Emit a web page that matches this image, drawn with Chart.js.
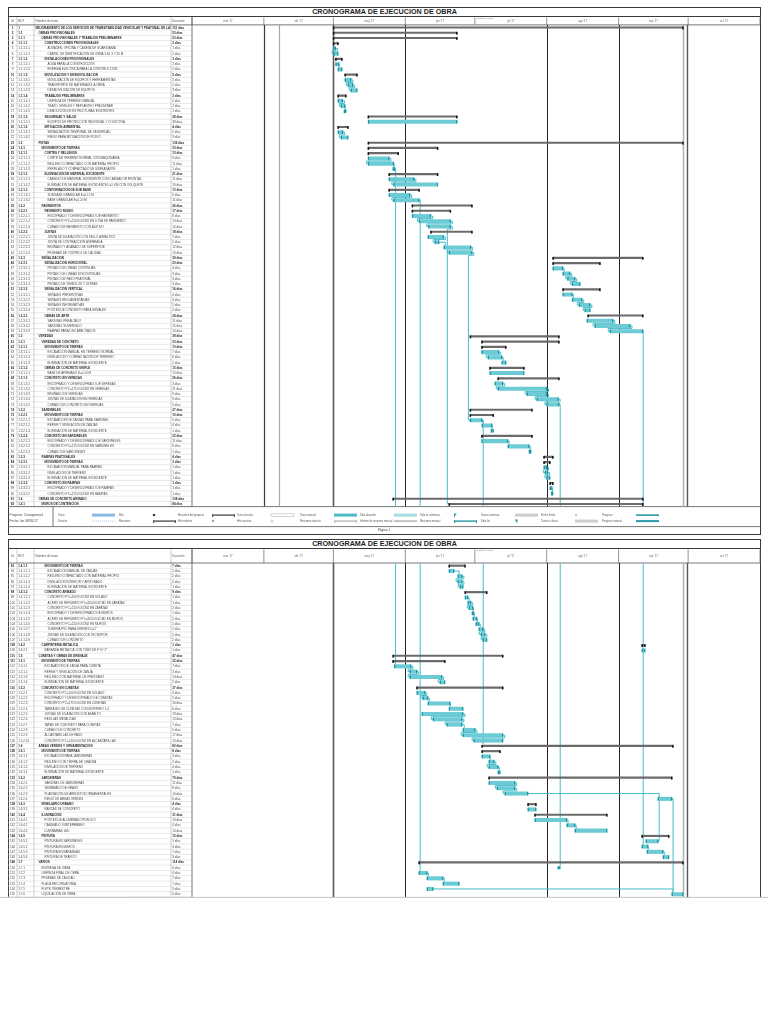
<!DOCTYPE html>
<html lang="es">
<head>
<meta charset="utf-8">
<title>Cronograma de ejecución de obra</title>
<script src="https://cdn.jsdelivr.net/npm/chart.js@4.4.1/dist/chart.umd.min.js"></script>
<style>
  html, body { margin: 0; padding: 0; background: #fff; }
  body { position: relative; width: 768px; height: 1024px; overflow: hidden; font-family: "Liberation Sans", Arial, sans-serif; }
  .hoja { position: absolute; left: 8px; width: 753px; border: 1px solid #3a3a3a; box-sizing: border-box; }
  .titulo { position: absolute; left: 8px; width: 753px; box-sizing: border-box; border-bottom: 1px solid #3a3a3a;
            text-align: center; font-weight: bold; font-size: 7.2px; color: #1e1e1e; }
  canvas { position: absolute; left: 0; }
</style>
</head>
<body>
<div class="hoja" style="top:7px;height:528px"></div>
<div class="titulo" style="top:7px;height:10px;line-height:10px">CRONOGRAMA DE EJECUCION DE OBRA</div>
<canvas id="pagina1" width="768" height="518" style="top:17px"></canvas>

<div class="hoja" style="top:539px;height:359px;border-bottom:none"></div>
<div class="titulo" style="top:539px;height:10px;line-height:10px">CRONOGRAMA DE EJECUCION DE OBRA</div>
<canvas id="pagina2" width="768" height="350" style="top:549px"></canvas>

<script>
// escala de tiempo: días contados desde el 1 de marzo de 2017
const inicioMeses = [0, 31, 61, 92, 122, 153, 184, 214, 245];
const etiquetasMeses = ["mar '17", "abr '17", "may '17", "jun '17", "jul '17", "ago '17", "sep '17", "oct '17"];
const diasLineasPagina1 = [31, 37.5, 61, 92, 153, 184, 211.8, 213.5];
const diasLineasPagina2 = [61, 92, 153, 184, 211.8, 213.5];

const nombresPagina1 = [
  "MEJORAMIENTO DE LOS SERVICIOS DE TRANSITABILIDAD VEHICULAR Y PEATONAL DE LAS CALLES DEL CENTRO POBLADO",
  "OBRAS PROVISIONALES", "OBRAS PROVISIONALES Y TRABAJOS PRELIMINARES", "CONSTRUCCIONES PROVISIONALES",
  "ALMACEN, OFICINA Y CASETA DE GUARDIANIA", "CARTEL DE IDENTIFICACION DE OBRA 3.60 X 7.20 M",
  "INSTALACIONES PROVISIONALES", "AGUA PARA LA CONSTRUCCION", "ENERGIA ELECTRICA PARA LA CONSTRUCCION",
  "MOVILIZACION Y DESMOVILIZACION", "MOVILIZACION DE EQUIPOS Y HERRAMIENTAS", "TRANSPORTE DE MATERIALES A OBRA",
  "DESMOVILIZACION DE EQUIPOS", "TRABAJOS PRELIMINARES", "LIMPIEZA DE TERRENO MANUAL",
  "TRAZO, NIVELES Y REPLANTEO PRELIMINAR", "DEMOLICION DE ESTRUCTURAS EXISTENTES", "SEGURIDAD Y SALUD",
  "EQUIPOS DE PROTECCION INDIVIDUAL Y COLECTIVA", "MITIGACION AMBIENTAL", "SEÑALIZACION TEMPORAL DE SEGURIDAD",
  "RIEGO PARA MITIGACION DE POLVO", "PISTAS", "MOVIMIENTO DE TIERRAS", "CORTES Y RELLENOS",
  "CORTE DE TERRENO NORMAL CON MAQUINARIA", "RELLENO COMPACTADO CON MATERIAL PROPIO",
  "PERFILADO Y COMPACTADO DE SUBRASANTE", "ELIMINACION DE MATERIAL EXCEDENTE",
  "CARGUIO DE MATERIAL EXCEDENTE CON CARGADOR FRONTAL", "ELIMINACION DE MATERIAL EXCEDENTE D=5 KM CON VOLQUETE",
  "CONFORMACION DE SUB BASE", "SUB BASE GRANULAR E=0.15 M", "BASE GRANULAR E=0.20 M", "PAVIMENTOS",
  "PAVIMENTO RIGIDO", "ENCOFRADO Y DESENCOFRADO DE PAVIMENTO", "CONCRETO F'C=210 KG/CM2 EN LOSA DE PAVIMENTO",
  "CURADO DE PAVIMENTO CON ADITIVO", "JUNTAS", "JUNTA DE DILATACION CON SELLO ASFALTICO",
  "JUNTA DE CONTRACCION ASERRADA", "BRUÑADO Y ACABADO DE SUPERFICIE", "PRUEBAS DE CONTROL DE CALIDAD",
  "SEÑALIZACION", "SEÑALIZACION HORIZONTAL", "PINTADO DE LINEAS CONTINUAS", "PINTADO DE LINEAS DISCONTINUAS",
  "PINTADO DE PASO PEATONAL", "PINTADO DE SIMBOLOS Y LETRAS", "SEÑALIZACION VERTICAL", "SEÑALES PREVENTIVAS",
  "SEÑALES REGLAMENTARIAS", "SEÑALES INFORMATIVAS", "POSTES DE CONCRETO PARA SEÑALES", "OBRAS DE ARTE",
  "SARDINEL PERALTADO", "SARDINEL SUMERGIDO", "RAMPAS PARA DISCAPACITADOS", "VEREDAS", "VEREDAS DE CONCRETO",
  "MOVIMIENTO DE TIERRAS", "EXCAVACION MANUAL EN TERRENO NORMAL", "NIVELACION Y COMPACTACION DE TERRENO",
  "ELIMINACION DE MATERIAL EXCEDENTE", "OBRAS DE CONCRETO SIMPLE", "BASE DE AFIRMADO E=0.10 M",
  "CONCRETO EN VEREDAS", "ENCOFRADO Y DESENCOFRADO DE VEREDAS", "CONCRETO F'C=175 KG/CM2 EN VEREDAS",
  "BRUÑADO DE VEREDAS", "JUNTAS DE DILATACION EN VEREDAS", "CURADO DE CONCRETO EN VEREDAS", "SARDINELES",
  "MOVIMIENTO DE TIERRAS", "EXCAVACION DE ZANJAS PARA SARDINEL", "REFINE Y NIVELACION DE ZANJAS",
  "ELIMINACION DE MATERIAL EXCEDENTE", "CONCRETO EN SARDINELES", "ENCOFRADO Y DESENCOFRADO DE SARDINELES",
  "CONCRETO F'C=175 KG/CM2 EN SARDINELES", "CURADO DE SARDINELES", "RAMPAS PEATONALES", "MOVIMIENTO DE TIERRAS",
  "EXCAVACION MANUAL PARA RAMPAS", "NIVELACION DE TERRENO", "ELIMINACION DE MATERIAL EXCEDENTE",
  "CONCRETO EN RAMPAS", "ENCOFRADO Y DESENCOFRADO DE RAMPAS", "CONCRETO F'C=175 KG/CM2 EN RAMPAS",
  "OBRAS DE CONCRETO ARMADO", "MUROS DE CONTENCION"
];
const nombresPagina2 = [
  "MOVIMIENTO DE TIERRAS", "EXCAVACION MANUAL DE ZANJAS", "RELLENO COMPACTADO CON MATERIAL PROPIO",
  "NIVELACION INTERIOR Y APISONADO", "ELIMINACION DE MATERIAL EXCEDENTE", "CONCRETO ARMADO",
  "CONCRETO F'C=100 KG/CM2 EN SOLADO", "ACERO DE REFUERZO FY=4200 KG/CM2 EN ZAPATAS",
  "CONCRETO F'C=210 KG/CM2 EN ZAPATAS", "ENCOFRADO Y DESENCOFRADO DE MUROS",
  "ACERO DE REFUERZO FY=4200 KG/CM2 EN MUROS", "CONCRETO F'C=210 KG/CM2 EN MUROS", "TUBERIA PVC PARA DRENES D=2\"",
  "JUNTAS DE DILATACION CON TECNOPOR", "CURADO DE CONCRETO", "CARPINTERIA METALICA",
  "BARANDA METALICA CON TUBO DE F°G° 2\"", "CUNETAS Y OBRAS DE DRENAJE", "MOVIMIENTO DE TIERRAS",
  "EXCAVACION DE ZANJA PARA CUNETA", "REFINE Y NIVELACION DE ZANJA", "RELLENO CON MATERIAL DE PRESTAMO",
  "ELIMINACION DE MATERIAL EXCEDENTE", "CONCRETO EN CUNETAS", "CONCRETO F'C=100 KG/CM2 EN SOLADO",
  "ENCOFRADO Y DESENCOFRADO DE CUNETAS", "CONCRETO F'C=175 KG/CM2 EN CUNETAS", "TARRAJEO DE CUNETAS CON MORTERO 1:4",
  "JUNTAS DE DILATACION CON ASFALTO", "REJILLAS METALICAS", "TAPAS DE CONCRETO PARA CUNETAS", "CURADO DE CONCRETO",
  "ALCANTARILLAS DE PASO", "CONCRETO F'C=210 KG/CM2 EN ALCANTARILLAS", "AREAS VERDES Y ORNAMENTACION",
  "MOVIMIENTO DE TIERRAS", "EXCAVACION PARA JARDINERAS", "RELLENO CON TIERRA DE CHACRA", "NIVELACION DE TERRENO",
  "ELIMINACION DE MATERIAL EXCEDENTE", "JARDINERAS", "SARDINEL DE JARDINERAS", "SEMBRADO DE GRASS",
  "PLANTACION DE ARBUSTOS ORNAMENTALES", "RIEGO DE AREAS VERDES", "MOBILIARIO URBANO", "BANCAS DE CONCRETO",
  "ILUMINACION", "POSTES DE ALUMBRADO PUBLICO", "CABLEADO SUBTERRANEO", "LUMINARIAS LED", "PINTURA",
  "PINTURA EN SARDINELES", "PINTURA EN MUROS", "PINTURA EN BARANDAS", "PINTURA DE TRAFICO", "VARIOS",
  "ENTREGA DE OBRA", "LIMPIEZA FINAL DE OBRA", "PRUEBAS DE CALIDAD", "PLACA RECORDATORIA", "FLETE TERRESTRE",
  "LIQUIDACION DE OBRA"
];

const nivelesPagina1 = [
  0, 1, 2, 3, 4, 4, 3, 4, 4, 3,   4, 4, 4, 3, 4, 4, 4, 3, 4, 3,
  4, 4, 1, 2, 3, 4, 4, 4, 3, 4,   4, 3, 4, 4, 2, 3, 4, 4, 4, 3,
  4, 4, 4, 4, 2, 3, 4, 4, 4, 4,   3, 4, 4, 4, 4, 3, 4, 4, 4, 1,
  2, 3, 4, 4, 4, 3, 4, 3, 4, 4,   4, 4, 4, 2, 3, 4, 4, 4, 3, 4,
  4, 4, 2, 3, 4, 4, 4, 3, 4, 4,   1, 2
];
const nivelesPagina2 = [
  3, 4, 4, 4, 4, 3, 4, 4, 4, 4,   4, 4, 4, 4, 4, 2, 3, 1, 2, 3,
  3, 3, 3, 2, 3, 3, 3, 3, 3, 3,   3, 3, 3, 3, 1, 2, 3, 3, 3, 3,
  2, 3, 3, 3, 3, 2, 3, 2, 3, 3,   3, 2, 3, 3, 3, 3, 1, 2, 2, 2,
  2, 2, 2
];

// R = resumen, T = tarea, H = hito
const tiposPagina1 = [
  'R','R','R','R','T','T','R','T','T','R',  'T','T','T','R','T','T','T','R','T','R',
  'T','T','R','R','R','T','T','T','R','T',  'T','R','T','T','R','R','T','T','T','R',
  'T','T','T','T','R','R','T','T','T','T',  'R','T','T','T','T','R','T','T','T','R',
  'R','R','T','T','T','R','T','R','T','T',  'T','T','T','R','R','T','T','T','R','T',
  'T','T','R','R','T','T','T','R','T','T',  'R','R'
];
const tiposPagina2 = [
  'R','T','T','T','T','R','T','T','T','T',  'T','T','T','T','T','R','T','R','R','T',
  'T','T','T','R','T','T','T','T','T','T',  'T','T','T','T','R','R','T','T','T','T',
  'R','T','T','T','T','R','T','R','T','T',  'T','R','T','T','T','T','R','H','T','T',
  'T','T','T'
];

const iniciosPagina1 = [
  61, 61, 61, 61, 61, 61.2, 62, 62, 63, 66,
  66, 67.3, 68.6, 63, 63, 64.3, 65.6, 76, 76, 63,
  63, 64.3, 76, 76, 76, 76, 76, 86.7, 85, 85,
  87, 85, 85, 87, 95, 95, 95, 98, 102, 103,
  101.8, 104.8, 108.7, 110.9, 155.7, 155.7, 155.7, 160, 162, 164,
  160, 160, 164, 167, 169.5, 170.8, 170.4, 173.8, 180.3, 120,
  125, 125, 125, 127.7, 133.7, 128.5, 128.5, 132, 130.7, 132,
  144.5, 148.8, 153, 120, 120, 120, 125.1, 129, 125, 125,
  136.3, 145.4, 151.8, 151.8, 151.8, 152.3, 153, 154.4, 154.4, 155,
  86.7, 110.9
];
const finesPagina1 = [
  211.8, 114.3, 114.3, 63, 62, 63, 64.7, 63.4, 64.7, 71.2,
  68.6, 69.4, 71.2, 66.4, 65, 66, 66.4, 114.3, 114.3, 67.3,
  65.1, 67.3, 211.8, 106, 89, 85, 87, 87.5, 106, 95.8,
  106, 98, 94, 98, 120.8, 111.5, 103, 111.5, 111.5, 120.8,
  108.5, 106.5, 120.3, 120.8, 194.5, 176, 160, 163, 165.2, 167.4,
  176, 164, 168.2, 171.7, 171.7, 194.5, 181.6, 189, 194.5, 158.3,
  158.3, 135.4, 132.4, 133.7, 135.4, 143.2, 143.2, 158.3, 134.1, 153,
  153, 158, 158.3, 146.7, 130, 125.1, 129.4, 130, 146.7, 136.3,
  145.4, 146.2, 155.7, 154.4, 153, 153.5, 154.4, 155.7, 155.3, 155.7,
  194.5, 194.5
];
const iniciosPagina2 = [
  110.9, 110.9, 114.7, 114.7, 115.6, 117.8, 117.8, 119, 119.5, 120.8,
  121.2, 122.5, 123.8, 124.7, 125.5, 194.1, 194.1, 86.7, 86.7, 87.3,
  94, 94, 107, 97, 97, 99.6, 101.8, 110.9, 99.2, 104,
  110, 116.9, 116.9, 121.6, 125.1, 125.1, 125.1, 128.1, 128.1, 132,
  128.1, 128.1, 131.6, 135, 201, 144.9, 144.9, 147.9, 147.9, 161.7,
  165.2, 194.1, 195.8, 194.1, 196.3, 203.2, 97.9, 158.3, 97.9, 101.4,
  108.3, 101.4, 207
];
const finesPagina2 = [
  117.8, 113, 116.5, 116.5, 116.9, 127.2, 119, 120.3, 121.2, 121.6,
  122.9, 123.8, 125.5, 126.4, 127.2, 195.4, 195.4, 134.1, 109.1, 94.5,
  97, 107.8, 109.1, 134.1, 100.5, 101.8, 111.3, 116.9, 116.9, 116.5,
  116.5, 122.1, 134.1, 134.1, 207.5, 132.9, 128.5, 130.3, 132, 132.9,
  207, 139.3, 139.3, 144.9, 207, 148.4, 148.4, 179, 161.7, 165.2,
  179, 205.7, 201, 196.7, 203.2, 205.7, 211.8, 158.3, 101.4, 108.3,
  115.2, 104, 211.8
];

// vínculos largos entre tareas no contiguas (Id predecesora, Id sucesora)
const vinculos = [[28, 112], [34, 151], [39, 92], [44, 76], [76, 127], [73, 150], [59, 146], [137, 155], [145, 137]];

const nombres = [...nombresPagina1, ...nombresPagina2];
const niveles = [...nivelesPagina1, ...nivelesPagina2];
const tipos = [...tiposPagina1, ...tiposPagina2];
const inicios = [...iniciosPagina1, ...iniciosPagina2];
const fines = [...finesPagina1, ...finesPagina2];
const primeraFila = [0, nombresPagina1.length];
const ultimaFila = [nombresPagina1.length - 1, nombres.length - 1];

// EDT a partir de los niveles
const codigosEdt = [];
const contadores = [];
niveles.forEach(n => {
  contadores[n] = (contadores[n] || 0) + 1;
  contadores.length = n + 1;
  codigosEdt.push(contadores.join('.'));
});

const duracionTexto = g => tipos[g] === 'H' ? '0 días' : Math.max(1, Math.round(fines[g] - inicios[g])) + ' días';

// enlaces: explícitos + escalera entre tareas consecutivas
const enlaces = vinculos.map(([a, b]) => [a - 1, b - 1]);
for (let g = 0; g + 1 < tipos.length; g++) {
  if (tipos[g] === 'T' && tipos[g + 1] === 'T' && inicios[g + 1] >= inicios[g]) enlaces.push([g, g + 1]);
}

const trazoLinea = {
  31: ['#3c3c3c', 1.2], 37.5: ['#a8a8a8', 1.2], 61: ['#5a5a5a', 1.6], 92: ['#262626', 1],
  153: ['#262626', 1], 184: ['#262626', 1], 211.8: ['#b4b4b4', 1.6], 213.5: ['#555', 1.4]
};
const colorTarea = '#6ccbd5';
const colorBordeTarea = '#1a92a0';
const colorVinculo = '#45bccb';
const colorResumen = '#6a6a6a';

const textosLeyenda = [
  'Tarea', 'Hito', 'Resumen del proyecto', 'Tarea inactiva', 'Tarea manual', 'Solo duración', 'Solo el comienzo',
  'Tareas externas', 'Fecha límite', 'Progreso',
  'División', 'Resumen', 'Hito externo', 'Hito inactivo', 'Resumen inactivo', 'Informe de resumen manual',
  'Resumen manual', 'Solo fin', 'Tareas críticas', 'Progreso manual'
];
const simbolosLeyenda = [
  'barra', 'rombo', 'proyecto', 'inactiva', 'manual', 'duracion', 'comienzo', 'externa', 'limite', 'progreso',
  'division', 'resumen', 'romboGris', 'romboHueco', 'resumenHueco', 'informe', 'resumenManual', 'fin', 'critica', 'progresoManual'
];
const columnasLeyenda = [58, 119, 178, 237, 300, 360, 420, 481, 541, 602];

function linea(ctx, x1, y1, x2, y2) {
  ctx.beginPath();
  ctx.moveTo(x1, y1);
  ctx.lineTo(x2, y2);
  ctx.stroke();
}

function rombo(ctx, cx, cy, r, relleno) {
  ctx.beginPath();
  ctx.moveTo(cx, cy - r); ctx.lineTo(cx + r, cy); ctx.lineTo(cx, cy + r); ctx.lineTo(cx - r, cy); ctx.closePath();
  if (relleno) ctx.fill(); else ctx.stroke();
}

function simboloLeyenda(ctx, tipo, x0, yc) {
  const w = 23;
  ctx.save();
  ctx.lineWidth = 0.6;
  switch (tipo) {
    case 'barra': ctx.fillStyle = '#8db9e6'; ctx.fillRect(x0, yc - 1.5, w, 3); break;
    case 'division': ctx.strokeStyle = '#7aa8da'; ctx.setLineDash([1, 1]); linea(ctx, x0, yc, x0 + w, yc); break;
    case 'rombo': ctx.fillStyle = '#222'; rombo(ctx, x0 + 1, yc, 1.5, true); break;
    case 'romboGris': ctx.fillStyle = '#999'; rombo(ctx, x0 + 1, yc, 1.5, true); break;
    case 'romboHueco': ctx.strokeStyle = '#999'; rombo(ctx, x0 + 1, yc, 1.5, false); break;
    case 'proyecto': case 'resumen': case 'resumenHueco': case 'resumenManual':
      ctx.fillStyle = tipo === 'resumenManual' ? '#2a9aa6' : (tipo === 'resumenHueco' ? '#bbb' : '#555');
      ctx.fillRect(x0, yc - 0.7, w, 1.4);
      ctx.fillRect(x0, yc - 0.7, 1.2, 2.6);
      ctx.fillRect(x0 + w - 1.2, yc - 0.7, 1.2, 2.6);
      break;
    case 'inactiva': ctx.strokeStyle = '#bbb'; ctx.strokeRect(x0, yc - 1.3, w, 2.6); break;
    case 'manual': ctx.fillStyle = '#4cb9c5'; ctx.fillRect(x0, yc - 1.5, w, 3); break;
    case 'duracion': ctx.fillStyle = '#a4dde3'; ctx.fillRect(x0, yc - 1.5, w, 3); break;
    case 'externa': case 'critica': ctx.fillStyle = '#cdcdcd'; ctx.fillRect(x0, yc - 1.5, w, 3); break;
    case 'informe': ctx.fillStyle = '#c4c4c4'; ctx.fillRect(x0, yc - 1, w, 2); break;
    case 'comienzo': ctx.fillStyle = '#1d97a3'; ctx.fillRect(x0, yc - 1.5, 1.2, 3); ctx.fillRect(x0, yc - 1.5, 2.4, 1); break;
    case 'fin': ctx.fillStyle = '#1d97a3'; ctx.fillRect(x0 + 1.2, yc - 1.5, 1.2, 3); ctx.fillRect(x0, yc - 1.5, 2.4, 1); break;
    case 'limite': ctx.fillStyle = '#86c440'; rombo(ctx, x0 + 1, yc, 1.2, true); break;
    case 'progreso': ctx.fillStyle = '#2a9aa6'; ctx.fillRect(x0, yc - 0.8, w, 1.6); break;
    case 'progresoManual': ctx.fillStyle = '#2a9aa6'; ctx.fillRect(x0, yc - 1, w, 2); break;
  }
  ctx.restore();
}

const planoCronograma = {
  id: 'planoCronograma',
  beforeDatasetsDraw(chart, args, o) {
    const {ctx, chartArea: a, scales: {x, y}} = chart;
    const g0 = primeraFila[o.pagina], g1 = ultimaFila[o.pagina];
    const alto = (a.bottom - a.top) / (g1 - g0 + 1);
    const fy = g => y.getPixelForValue(g - g0);
    ctx.save();

    // tabla de tareas
    ctx.lineWidth = 0.5;
    ctx.strokeStyle = '#d2d2d2';
    for (let g = g0; g <= g1; g++) linea(ctx, 8, fy(g) + alto / 2, 192, fy(g) + alto / 2);
    ctx.strokeStyle = '#9c9c9c';
    [17, 34, 171].forEach(cx => linea(ctx, cx, 0, cx, a.bottom));
    ctx.lineWidth = 0.8;
    ctx.strokeStyle = '#555';
    linea(ctx, 192, 0, 192, a.bottom);
    linea(ctx, 8, a.top, 760, a.top);
    if (o.leyenda) {
      linea(ctx, 8, a.bottom, 760, a.bottom);
    } else {
      ctx.strokeStyle = '#c4c4c4';
      ctx.lineWidth = 1;
      linea(ctx, 0, a.bottom + 0.5, 768, a.bottom + 0.5);
    }

    const yCab = a.top / 2;
    ctx.textBaseline = 'middle';
    ctx.fillStyle = '#555';
    ctx.font = '3px "Liberation Sans"';
    ctx.textAlign = 'center';
    ctx.fillText('Id', 12.5, yCab);
    ctx.textAlign = 'left';
    ctx.fillText('EDT', 18.3, yCab);
    ctx.fillText('Nombre de tarea', 35.5, yCab);
    ctx.fillText('Duración', 172.3, yCab);

    for (let g = g0; g <= g1; g++) {
      const yc = fy(g) + 0.2;
      const resumen = tipos[g] === 'R';
      ctx.fillStyle = resumen ? '#2a2a2a' : '#4a4a4a';
      ctx.font = (resumen ? 'bold ' : '') + '3px "Liberation Sans"';
      ctx.textAlign = 'center';
      ctx.fillText(String(g + 1), 12.5, yc);
      ctx.textAlign = 'left';
      ctx.fillText(codigosEdt[g], 18.3, yc);
      ctx.fillText(duracionTexto(g), 172.3, yc);
      ctx.save();
      ctx.beginPath();
      ctx.rect(34.5, yc - 3, 136, 6);
      ctx.clip();
      ctx.fillText(nombres[g], 35.5 + niveles[g] * 3, yc);
      ctx.restore();
    }

    // escala temporal
    ctx.strokeStyle = '#666';
    ctx.lineWidth = 0.7;
    ctx.fillStyle = '#666';
    ctx.font = '2.8px "Liberation Sans"';
    ctx.textAlign = 'center';
    inicioMeses.forEach((d, k) => {
      const xm = x.getPixelForValue(d);
      linea(ctx, xm, 0.5, xm, a.top);
      if (k < etiquetasMeses.length) {
        ctx.fillText(etiquetasMeses[k], (xm + x.getPixelForValue(inicioMeses[k + 1])) / 2, yCab + 0.5);
      }
    });
    ctx.textAlign = 'left';
    ctx.font = '2.2px "Liberation Sans"';
    ctx.fillText('semestre 2, 2017', x.getPixelForValue(122) + 1.5, 1.8);

    // líneas verticales de fechas
    o.lineas.forEach(d => {
      const [color, ancho] = trazoLinea[d];
      ctx.strokeStyle = color;
      ctx.lineWidth = ancho;
      const xv = Math.round(x.getPixelForValue(d)) + 0.5;
      linea(ctx, xv, a.top, xv, a.bottom);
    });

    // vínculos entre tareas
    ctx.strokeStyle = colorVinculo;
    ctx.lineWidth = 1;
    enlaces.forEach(([p, s]) => {
      if (Math.max(p, s) < g0 || Math.min(p, s) > g1) return;
      const enP = p >= g0 && p <= g1, enS = s >= g0 && s <= g1;
      const xp = x.getPixelForValue(fines[p]);
      const xs = x.getPixelForValue(inicios[s]);
      const baja = s > p;
      const yP = enP ? fy(p) : (p < g0 ? a.top : a.bottom);
      const yS = enS ? fy(s) : (s < g0 ? a.top : a.bottom);
      const pts = [];
      if (xs >= xp - 1) {
        const vx = xs + 1.2;
        if (enP) pts.push([xp, yP]);
        pts.push([vx, yP], [vx, enS ? yS + (baja ? -1.8 : 1.8) : yS]);
      } else {
        const vx = xs - 1.8;
        const yMedio = yP + (baja ? alto / 2 : -alto / 2);
        if (enP) pts.push([xp, yP], [xp + 1.8, yP], [xp + 1.8, yMedio], [vx, yMedio]);
        else pts.push([vx, yP]);
        pts.push([vx, yS]);
        if (enS) pts.push([xs, yS]);
      }
      ctx.beginPath();
      ctx.moveTo(pts[0][0], pts[0][1]);
      pts.slice(1).forEach(q => ctx.lineTo(q[0], q[1]));
      ctx.stroke();
    });
    ctx.restore();
  },
  afterDatasetsDraw(chart, args, o) {
    const {ctx, scales: {x, y}} = chart;
    const g0 = primeraFila[o.pagina], g1 = ultimaFila[o.pagina];
    ctx.save();
    for (let g = g0; g <= g1; g++) {
      const yc = y.getPixelForValue(g - g0);
      const xi = x.getPixelForValue(inicios[g]);
      const xf = x.getPixelForValue(fines[g]);
      if (tipos[g] === 'R') {
        ctx.fillStyle = '#111';
        ctx.fillRect(xi - 0.6, yc - 0.9, 1.5, 2.8);
        ctx.fillRect(xf - 0.9, yc - 0.9, 1.5, 2.8);
      } else if (tipos[g] === 'T') {
        ctx.fillStyle = colorBordeTarea;
        ctx.fillRect(xi - 0.3, yc - 1.7, 1.2, 3.4);
        ctx.fillRect(xf - 0.9, yc - 1.7, 1.2, 3.4);
      } else {
        ctx.fillStyle = colorBordeTarea;
        ctx.fillRect(xi - 1.5, yc - 1.5, 3, 3);
      }
    }
    ctx.restore();
  },
  afterDraw(chart, args, o) {
    if (!o.leyenda) return;
    const {ctx, chartArea: a} = chart;
    const y0 = a.bottom;
    ctx.save();
    ctx.strokeStyle = '#555';
    ctx.lineWidth = 0.8;
    linea(ctx, 53, y0, 53, y0 + 20);
    linea(ctx, 8, y0 + 20, 760, y0 + 20);
    ctx.fillStyle = '#444';
    ctx.textBaseline = 'middle';
    ctx.textAlign = 'left';
    ctx.font = '3.2px "Liberation Sans"';
    ctx.fillText('Proyecto: Cronograma1', 9.5, y0 + 8.5);
    ctx.fillText('Fecha: lun 08/05/17', 9.5, y0 + 14.5);
    ctx.font = '2.6px "Liberation Sans"';
    textosLeyenda.forEach((t, k) => {
      const col = columnasLeyenda[k % 10];
      const yc = y0 + (k < 10 ? 8.5 : 14.5);
      ctx.fillStyle = '#555';
      ctx.fillText(t, col, yc);
      simboloLeyenda(ctx, simbolosLeyenda[k], col + 34, yc);
    });
    ctx.fillStyle = '#444';
    ctx.textAlign = 'center';
    ctx.font = '3.2px "Liberation Sans"';
    ctx.fillText('Página ' + (o.pagina + 1), 384, y0 + 24);
    ctx.restore();
  }
};

function crearPagina(idCanvas, pagina, lineas, cabecera, pie, leyenda) {
  const filas = [];
  for (let g = primeraFila[pagina]; g <= ultimaFila[pagina]; g++) filas.push(g);
  return new Chart(document.getElementById(idCanvas), {
    type: 'bar',
    data: {
      labels: filas.map(g => String(g + 1)),
      datasets: [
        {
          label: 'Tareas',
          data: filas.map(g => tipos[g] === 'T' ? [inicios[g], fines[g]] : null),
          backgroundColor: colorTarea,
          barThickness: 3.4,
          grouped: false
        },
        {
          label: 'Resúmenes',
          data: filas.map(g => tipos[g] === 'R' ? [inicios[g], fines[g]] : null),
          backgroundColor: colorResumen,
          barThickness: 1.5,
          grouped: false
        }
      ]
    },
    options: {
      indexAxis: 'y',
      responsive: false,
      animation: false,
      events: [],
      layout: {padding: {left: 192, right: 8, top: cabecera, bottom: pie}},
      scales: {
        x: {type: 'linear', min: 0, max: 245, display: false},
        y: {display: false}
      },
      plugins: {
        legend: {display: false},
        tooltip: {enabled: false},
        planoCronograma: {pagina: pagina, lineas: lineas, leyenda: leyenda}
      }
    },
    plugins: [planoCronograma]
  });
}

crearPagina('pagina1', 0, diasLineasPagina1, 7.9, 28.4, true);
crearPagina('pagina2', 1, diasLineasPagina2, 14, 2.1, false);
</script>
</body>
</html>
